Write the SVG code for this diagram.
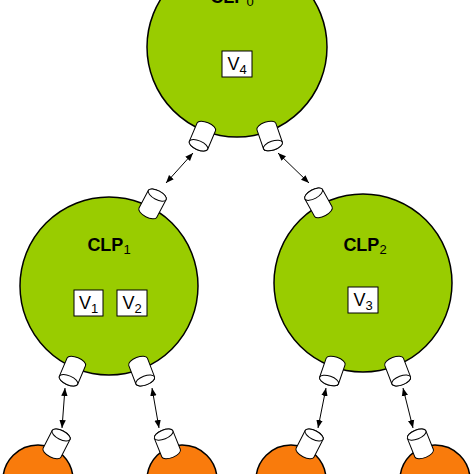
<svg xmlns="http://www.w3.org/2000/svg" width="474" height="474" viewBox="0 0 474 474">
<defs>
<style>
.clp{fill:#99cc00;stroke:#000;stroke-width:1.5}
.leaf{fill:#f97b0c;stroke:#000;stroke-width:1.5}
.cyl{fill:#fff;stroke:#000;stroke-width:1}
.box{fill:#fff;stroke:#000;stroke-width:1}
.lbl{font-family:"Liberation Sans",Arial,sans-serif;font-weight:bold;font-size:18px;fill:#000}
.v{font-family:"Liberation Sans",Arial,sans-serif;font-size:18px;fill:#000}
.sub{font-size:13px;font-weight:normal}
.con{stroke:#000;stroke-width:1;fill:none}
</style>
<marker id="ah" viewBox="0 0 10 10" refX="10" refY="5" markerWidth="8" markerHeight="8" orient="auto-start-reverse" markerUnits="userSpaceOnUse">
<path d="M0,1 L10,5 L0,9 z" fill="#000"/>
</marker>
<g id="cyl">
<path class="cyl" d="M-10,-11 L-10,9 A10,4.5 0 0 0 10,9 L10,-11 A10,4.5 0 0 0 -10,-11 z"/>
<ellipse class="cyl" cx="0" cy="9" rx="10" ry="4.5"/>
</g>
</defs>

<g id="clp0">
<circle class="clp" cx="237" cy="47" r="90"/>
<text class="lbl" x="232" y="3" text-anchor="middle">CLP<tspan class="sub" dy="3">0</tspan></text>
<rect class="box" x="222" y="51" width="30" height="26"/>
<text class="v" x="237" y="70" text-anchor="middle">V<tspan class="sub" dy="4">4</tspan></text>
<use href="#cyl" transform="translate(202,137) rotate(23)"/>
<use href="#cyl" transform="translate(270,137) rotate(-19)"/>
</g>

<g id="clp1">
<circle class="clp" cx="109" cy="286" r="89"/>
<text class="lbl" x="109" y="251" text-anchor="middle">CLP<tspan class="sub" dy="3">1</tspan></text>
<rect class="box" x="74" y="290" width="29" height="26"/>
<text class="v" x="88.5" y="309" text-anchor="middle">V<tspan class="sub" dy="4">1</tspan></text>
<rect class="box" x="117" y="290" width="30" height="26"/>
<text class="v" x="132" y="309" text-anchor="middle">V<tspan class="sub" dy="4">2</tspan></text>
<use href="#cyl" transform="translate(153,203) rotate(-152)"/>
<use href="#cyl" transform="translate(72,372) rotate(23)"/>
<use href="#cyl" transform="translate(142,372) rotate(-21)"/>
</g>

<g id="clp2">
<circle class="clp" cx="363" cy="283" r="89"/>
<text class="lbl" x="365" y="251" text-anchor="middle">CLP<tspan class="sub" dy="3">2</tspan></text>
<rect class="box" x="348" y="287" width="30" height="26"/>
<text class="v" x="363" y="306" text-anchor="middle">V<tspan class="sub" dy="4">3</tspan></text>
<use href="#cyl" transform="translate(318,202) rotate(151)"/>
<use href="#cyl" transform="translate(332,372) rotate(19)"/>
<use href="#cyl" transform="translate(398,372) rotate(-21)"/>
</g>

<g id="leaf1">
<circle class="leaf" cx="38" cy="480" r="35"/>
<use href="#cyl" transform="translate(57,443) rotate(-153)"/>
</g>
<g id="leaf2">
<circle class="leaf" cx="182" cy="480" r="35"/>
<use href="#cyl" transform="translate(167,443) rotate(158)"/>
</g>
<g id="leaf3">
<circle class="leaf" cx="291" cy="480" r="35"/>
<use href="#cyl" transform="translate(310,443) rotate(-153)"/>
</g>
<g id="leaf4">
<circle class="leaf" cx="435" cy="480" r="35"/>
<use href="#cyl" transform="translate(420,443) rotate(158)"/>
</g>

<g id="connectors">
<line class="con" x1="193" y1="153" x2="166" y2="183" marker-start="url(#ah)" marker-end="url(#ah)"/>
<line class="con" x1="278" y1="153" x2="309" y2="183" marker-start="url(#ah)" marker-end="url(#ah)"/>
<line class="con" x1="65" y1="388" x2="62" y2="428" marker-start="url(#ah)" marker-end="url(#ah)"/>
<line class="con" x1="152" y1="388" x2="159" y2="428" marker-start="url(#ah)" marker-end="url(#ah)"/>
<line class="con" x1="326" y1="388" x2="318" y2="428" marker-start="url(#ah)" marker-end="url(#ah)"/>
<line class="con" x1="403" y1="388" x2="413" y2="428" marker-start="url(#ah)" marker-end="url(#ah)"/>
</g>
</svg>
